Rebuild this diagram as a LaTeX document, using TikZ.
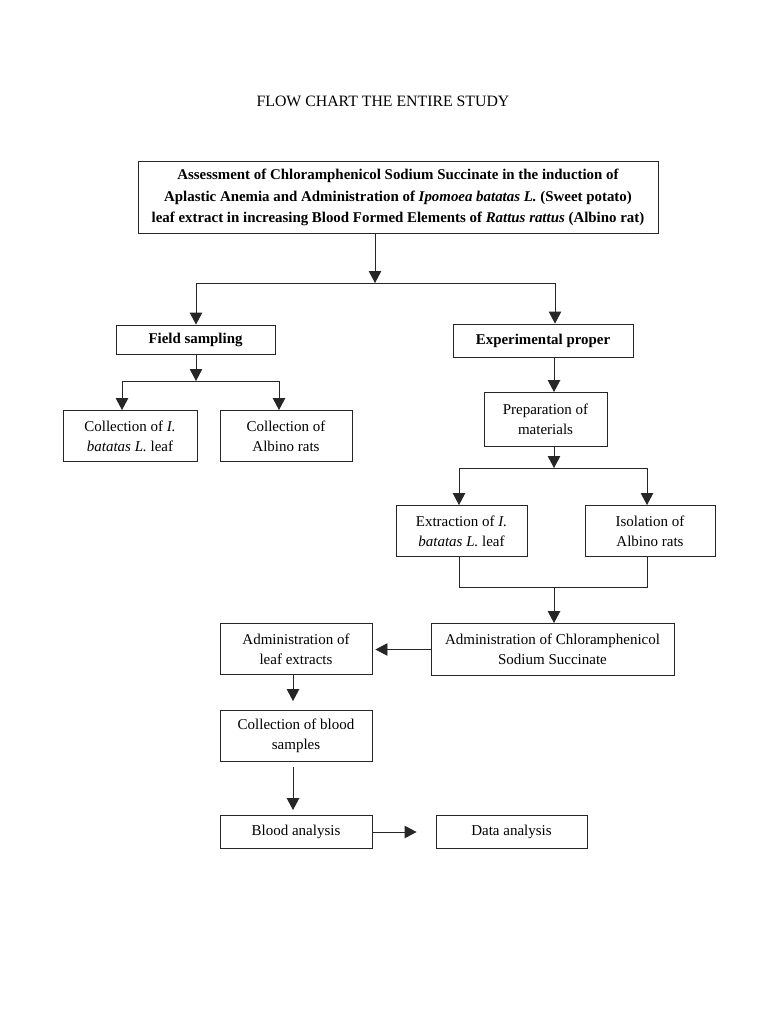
\documentclass[tikz,border=0pt]{standalone}
\usepackage{fontspec}
\setmainfont{Liberation Serif}
\usetikzlibrary{arrows.meta}
\tikzset{
  box/.style={draw=black!85, line width=0.9pt, inner sep=0pt, align=center, font=\fontsize{15}{20}\selectfont},
  bbox/.style={box, font=\fontsize{14.9}{21.5}\selectfont\bfseries},
  conn/.style={draw=black!85, line width=0.9pt},
  arr/.style={conn, -{Triangle[width=12.5pt,length=12pt]}}
}
\begin{document}
\begin{tikzpicture}[x=1pt,y=-1pt]
\useasboundingbox[fill=white] (0,0) rectangle (768,1024);
\node[font=\fontsize{15.8}{18}\selectfont] (title) at (383,101) {FLOW CHART THE ENTIRE STUDY};
\node[bbox, minimum width=520pt, minimum height=72pt] (top) at (398,197.5) {Assessment of Chloramphenicol Sodium Succinate in the induction of\\ Aplastic Anemia and Administration of \textit{Ipomoea batatas L.} (Sweet potato)\\ leaf extract in increasing Blood Formed Elements of \textit{Rattus rattus} (Albino rat)};
\node[bbox, minimum width=159pt, minimum height=29pt] (field) at (195.5,339.5) {Field sampling};
\node[bbox, minimum width=180pt, minimum height=33pt] (exp) at (543,340.5) {Experimental proper};
\node[box, minimum width=134pt, minimum height=51pt] (colI) at (130,436) {Collection of \textit{I.}\\ \textit{batatas L.} leaf};
\node[box, minimum width=132pt, minimum height=51pt] (colA) at (286,436) {Collection of\\ Albino rats};
\node[box, minimum width=123pt, minimum height=54pt] (prep) at (545.5,419.5) {Preparation of\\ materials};
\node[box, minimum width=131pt, minimum height=51pt] (extr) at (461.5,531) {Extraction of \textit{I.}\\ \textit{batatas L.} leaf};
\node[box, minimum width=130pt, minimum height=51pt] (iso) at (650,531) {Isolation of\\ Albino rats};
\node[box, minimum width=243pt, minimum height=52pt] (chl) at (552.5,649.5) {Administration of Chloramphenicol\\ Sodium Succinate};
\node[box, minimum width=152pt, minimum height=51pt] (adm) at (296,649) {Administration of\\ leaf extracts};
\node[box, minimum width=152pt, minimum height=51pt] (cob) at (296,736) {Collection of blood\\ samples};
\node[box, minimum width=152pt, minimum height=33pt] (ba) at (296,832) {Blood analysis};
\node[box, minimum width=151pt, minimum height=33pt] (da) at (511.5,832) {Data analysis};
% junctions
\coordinate (j1) at (375,283);
\coordinate (j1l) at (196,283);
\coordinate (j1r) at (555,283);
\coordinate (j2) at (196,381);
\coordinate (j2l) at (122,381);
\coordinate (j2r) at (279,381);
\coordinate (j3) at (554,468);
\coordinate (j3l) at (459,468);
\coordinate (j3r) at (647,468);
\coordinate (j4) at (554,587);
\coordinate (j4l) at (459,587);
\coordinate (j4r) at (647,587);
\coordinate (xa) at (293,0);
% connectors
\draw[arr] (top.south -| j1) -- (j1);
\draw[conn] (j1l) -- (j1r);
\draw[arr] (j1l) -- (j1l |- field.north);
\draw[arr] (j1r) -- (j1r |- exp.north);
\draw[arr] (field.south -| j2) -- (j2);
\draw[conn] (j2l) -- (j2r);
\draw[arr] (j2l) -- (j2l |- colI.north);
\draw[arr] (j2r) -- (j2r |- colA.north);
\draw[arr] (exp.south -| j3) -- (j3 |- prep.north);
\draw[arr] (prep.south -| j3) -- (j3);
\draw[conn] (j3l) -- (j3r);
\draw[arr] (j3l) -- (j3l |- extr.north);
\draw[arr] (j3r) -- (j3r |- iso.north);
\draw[conn] (extr.south -| j4l) -- (j4l) -- (j4r) -- (iso.south -| j4r);
\draw[arr] (j4) -- (j4 |- chl.north);
\draw[arr, shorten >=3pt] (chl.west) -- (adm.east |- chl.west);
\draw[arr, shorten >=9pt] (adm.south -| xa) -- (cob.north -| xa);
\draw[arr, shorten <=5pt, shorten >=5pt] (cob.south -| xa) -- (ba.north -| xa);
\draw[arr, shorten >=19pt] (ba.east) -- (da.west);
\end{tikzpicture}
\end{document}
